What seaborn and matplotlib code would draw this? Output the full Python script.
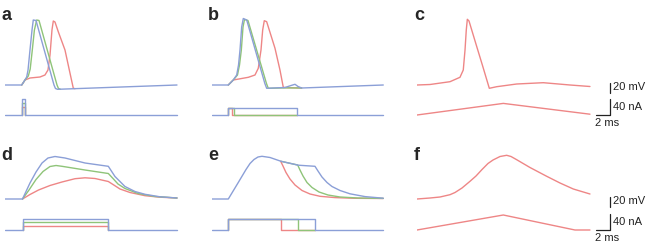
import matplotlib.pyplot as plt
import seaborn as sns

RED, GREEN, BLUE = "#ee8686", "#8fc479", "#8b9fd7"

# ---- membrane potential traces (t in ms, V in mV) ----
# red/green traces only cover the stretch where they leave the blue trace
# a: brief pulses of three amplitudes
a_blue_t = [0, 2.39, 2.71, 3.10, 3.29, 3.57, 3.86, 4.04, 4.43, 7.0, 7.21, 7.5, 24.57]
a_blue_v = [-65, -65, -58, -49, -35, 5, 45, 65, 64, -65, -72, -73.6, -65]
a_green_t = [2.39, 2.86, 3.33, 3.6, 3.9, 4.2, 4.53, 4.86, 7.43, 7.64, 7.9]
a_green_v = [-65, -55, -47, -33, 5, 45, 65, 64, -65, -72, -73.4]
a_red_t = [2.39, 2.86, 3.57, 5.0, 5.71, 6.14, 6.43, 6.71, 6.9, 7.14, 7.61, 8.57, 9.29, 9.76, 10.0]
a_red_v = [-65, -55, -51, -49, -45, -35, -5, 45, 63, 61, 41.6, 5, -41.6, -71.6, -72.3]

# b: equal amplitude, different durations
b_blue_t = [0, 2.33, 3.04, 3.53, 3.79, 4.0, 4.24, 4.47, 4.96, 7.55, 7.81, 10.43, 11.29, 11.86, 12.29, 12.81, 24.47]
b_blue_v = [-65, -65, -55, -45, -25, 5, 51, 68, 65, -62, -71.6, -70, -66, -63.6, -68, -71, -65]
b_green_t = [2.33, 3.04, 3.64, 3.93, 4.19, 4.43, 4.64, 5.14, 7.78, 8.04, 10.43, 12.81]
b_green_v = [-65, -55, -45, -25, 5, 51, 66, 64, -62, -71.6, -70.8, -71]
b_red_t = [2.33, 3.04, 5.19, 6.14, 6.61, 7.0, 7.24, 7.47, 7.81, 9.0, 9.71, 10.19, 12.81]
b_red_v = [-65, -55, -49.6, -45, -31.6, 5, 45, 63.6, 61.6, 8.4, -35, -70, -71]

# c: ramp stimulus
c_red_t = [0, 1.86, 4.71, 6.14, 6.61, 6.86, 7.04, 7.19, 7.43, 8.4, 9.4, 10.33, 11.39, 14.24, 18.04, 21.86, 24.71]
c_red_v = [-65, -64, -58.4, -49.6, -35, 5, 45, 66.4, 63, 18, -28, -71.6, -68.4, -63, -60.4, -65, -68]

# d: long steps of three amplitudes
d_blue_t = [0, 2.5, 3.57, 4.43, 5.29, 6.14, 7.14, 8.57, 11.43, 14.76, 15.71, 17.14, 18.57, 20.0, 22.14, 24.57]
d_blue_v = [-65, -65, -33, -11, 7, 17, 20, 17, 7, 0.4, -20, -40, -50, -55.6, -60.6, -63]
d_green_t = [2.5, 3.43, 4.43, 5.43, 6.43, 7.29, 8.14, 11.43, 14.76, 15.43, 16.14, 17.14, 19.0, 21.43, 24.57]
d_green_v = [-65, -47, -26, -10, 0, 2, 0.4, -7, -14, -24, -35, -44, -54, -60, -63]
d_red_t = [2.5, 3.57, 4.79, 6.43, 8.14, 10.0, 11.43, 12.86, 14.76, 15.43, 16.43, 17.86, 20.0, 22.14, 24.57]
d_red_v = [-65, -56, -47, -38, -31, -24.4, -22.6, -24, -30, -36, -45, -52, -58.4, -61.4, -63]

# e: equal amplitude steps ending at different times
e_blue_t = [0, 2.33, 3.71, 4.86, 5.43, 6.0, 6.57, 7.14, 8.29, 9.86, 12.33, 14.71, 15.14, 15.71,
            16.43, 17.14, 18.29, 19.71, 21.86, 24.47]
e_blue_v = [-65, -65, -33, -6, 6, 14, 19, 20.4, 18, 10.4, 2.6, 0.4, -9, -21, -32, -40, -48, -54.6, -60.2, -63.4]
e_green_t = [9.86, 12.24, 12.57, 13.0, 13.57, 14.29, 15.29, 16.57, 18.29, 20.86, 24.47]
e_green_v = [10.4, 3, -7, -19, -32, -42, -51, -57, -61, -63, -63.8]
e_red_t = [9.81, 10.14, 10.57, 11.14, 11.86, 12.86, 14.0, 15.43, 17.57, 20.43, 24.47]
e_red_v = [10.5, 1, -12, -25, -37, -48, -55, -59.6, -62.2, -63.6, -64]

# f: slower ramp
f_red_t = [0, 1.86, 3.29, 4.71, 5.43, 6.43, 7.57, 8.43, 9.29, 10.14, 10.86, 11.86, 12.81, 13.43,
           14.24, 16.14, 18.53, 20.43, 22.33, 24.71]
f_red_v = [-65, -63, -61, -56.4, -52, -43, -29.6, -19, -6, 6, 13, 20, 22.4, 20,
           13.6, -2, -19.6, -33, -45, -55]

# ---- injected currents (nA) ----
# steps: onset, offsets and amplitudes for red, green, blue
a_on, a_off, a_amp = 2.4, [2.9, 2.9, 2.9], [20, 30, 40]
b_on, b_off, b_amp = 2.33, [2.81, 3.14, 12.19], [18, 18, 18]
d_on, d_off, d_amp = 2.5, [14.76, 14.76, 14.76], [9, 19, 28]
e_on, e_off, e_amp = 2.35, [9.81, 12.24, 14.71], [28, 28, 28]
# ramps
c_cur_t = [0, 12.33, 24.71]
c_cur_i = [0, 29, 2]
f_cur_t = [0, 12.33, 22.57, 24.71]
f_cur_i = [0, 37.5, 0, 0]

W, H = 650, 246
PX_MS, PX_MV, PX_NA = 7.0, 0.5, 0.4
T_END = 24.8
V_REST = -65
LW = 1.0

sns.set_theme(style="white")
plt.rcParams["font.family"] = ["Liberation Sans", "DejaVu Sans"]

fig = plt.figure(figsize=(W / 100, H / 100), dpi=100)


def add_ax(left, top, height):
    width = T_END * PX_MS
    ax = fig.add_axes([left / W, 1 - (top + height) / H, width / W, height / H])
    ax.set_xlim(0, T_END)
    ax.set_axis_off()
    return ax


def volt_ax(left, top, base, bottom):
    ax = add_ax(left, top, bottom - top)
    ax.set_ylim(V_REST - (bottom - base) / PX_MV, V_REST + (base - top) / PX_MV)
    return ax


def cur_ax(left, top, base, bottom):
    ax = add_ax(left, top, bottom - top)
    ax.set_ylim(-(bottom - base) / PX_NA, (base - top) / PX_NA)
    return ax


def trace(ax, t, y, color):
    sns.lineplot(x=t, y=y, ax=ax, color=color, lw=LW, sort=False, estimator=None)


def steps(ax, on, offs, amps, t_end):
    # red and green only where they differ from the blue (last drawn) trace
    last = max(offs)
    for off, amp, color in zip(offs[:2], amps[:2], [RED, GREEN]):
        trace(ax, [on, on, off, off, last], [0, amp, amp, 0, 0], color)
    trace(ax, [0, on, on, offs[2], offs[2], t_end], [0, 0, amps[2], amps[2], 0, 0], BLUE)


lefts = [5, 212, 417]
rows = [dict(vtop=5, vbase=85, vbot=95, ctop=95, cbase=115, cbot=125),
        dict(vtop=119, vbase=199, vbot=209, ctop=209, cbase=230, cbot=240)]

panels = {}
for r, row in enumerate(rows):
    for c, left in enumerate(lefts):
        va = volt_ax(left, row["vtop"], row["vbase"], row["vbot"])
        ca = cur_ax(left, row["ctop"], row["cbase"], row["cbot"])
        panels["abcdef"[r * 3 + c]] = (va, ca)

# a
va, ca = panels["a"]
trace(va, a_red_t, a_red_v, RED)
trace(va, a_green_t, a_green_v, GREEN)
trace(va, a_blue_t, a_blue_v, BLUE)
steps(ca, a_on, a_off, a_amp, 24.57)

# b
va, ca = panels["b"]
trace(va, b_red_t, b_red_v, RED)
trace(va, b_green_t, b_green_v, GREEN)
trace(va, b_blue_t, b_blue_v, BLUE)
steps(ca, b_on, b_off, b_amp, 24.47)

# c
va, ca = panels["c"]
trace(va, c_red_t, c_red_v, RED)
trace(ca, c_cur_t, c_cur_i, RED)

# d
va, ca = panels["d"]
trace(va, d_red_t, d_red_v, RED)
trace(va, d_green_t, d_green_v, GREEN)
trace(va, d_blue_t, d_blue_v, BLUE)
steps(ca, d_on, d_off, d_amp, 24.57)

# e
va, ca = panels["e"]
trace(va, e_red_t, e_red_v, RED)
trace(va, e_green_t, e_green_v, GREEN)
trace(va, e_blue_t, e_blue_v, BLUE)
steps(ca, e_on, e_off, e_amp, 24.47)

# f
va, ca = panels["f"]
trace(va, f_red_t, f_red_v, RED)
trace(ca, f_cur_t, f_cur_i, RED)

# scale bars next to c and f
bar_t = 27.57
for key in ["c", "f"]:
    va, ca = panels[key]
    va.plot([bar_t, bar_t], [-80, -60], color="#222222", lw=0.9, clip_on=False)
    va.text(bar_t + 0.45, -70, "20 mV", fontsize=8, color="#222222", va="center", ha="left", clip_on=False)
    ca.plot([bar_t - 2, bar_t, bar_t], [1, 1, 41], color="#222222", lw=0.9, clip_on=False)
    ca.text(bar_t + 0.45, 20, "40 nA", fontsize=8, color="#222222", va="center", ha="left", clip_on=False)
    ca.text(bar_t - 2.15, -21, "2 ms", fontsize=8, color="#222222", va="center", ha="left", clip_on=False)

# panel letters
for letter, (x, y) in zip("abcdef", [(1, 20), (208, 20), (414, 20), (1, 160), (208, 160), (414, 160)]):
    fig.text(x / W, 1 - y / H, letter, fontsize=13, fontweight="bold", ha="left", va="baseline")

fig.savefig("out.png", dpi=100)
